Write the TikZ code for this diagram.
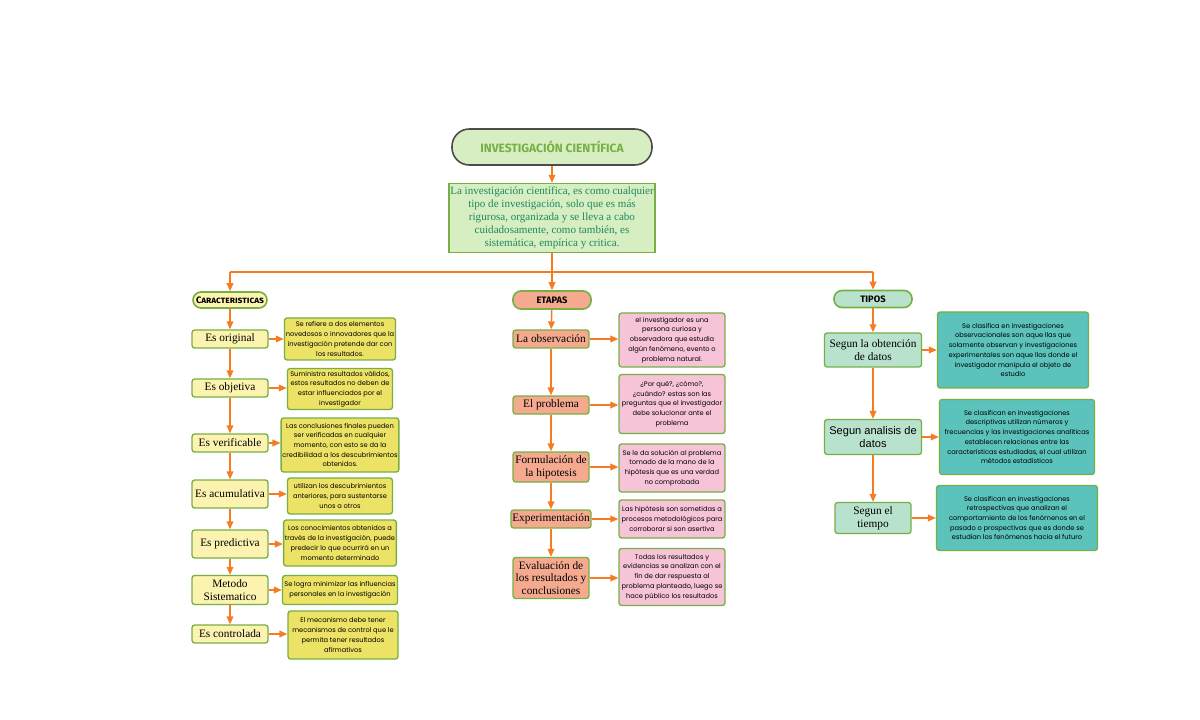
\documentclass[tikz,border=0pt]{standalone}
\usepackage{fontspec}
\setmainfont{Liberation Serif}
\newfontfamily\hand{Poppins}
\newfontfamily\hsans{Liberation Sans}
\newfontfamily\fira{Fira Sans}
\usetikzlibrary{arrows.meta}
\definecolor{org}{HTML}{F57C22}
\definecolor{grn}{HTML}{76B043}
\definecolor{ylw}{HTML}{ECE265}
\definecolor{lylw}{HTML}{FDF3B0}
\definecolor{salm}{HTML}{F5AA90}
\definecolor{pink}{HTML}{F6C3D8}
\definecolor{mint}{HTML}{B9E2CE}
\definecolor{teal}{HTML}{5BC2BC}
\definecolor{lgrn}{HTML}{D7EDC2}
\definecolor{dtxt}{HTML}{1E8A5E}
\begin{document}
\begin{tikzpicture}[x=0.75pt,y=-0.75pt,
 ar/.style={draw=org,line width=1.1pt,-{Triangle[length=6pt,width=5pt]}},
 cat/.style={draw=grn,line width=1pt,rounded corners=2pt,align=center,font=\fontsize{8.5}{9.5}\selectfont,inner sep=1pt},
 desc/.style={draw=grn,line width=1pt,rounded corners=2pt,align=center,font=\hand\fontsize{5}{7.3}\selectfont,inner sep=1pt},
 head/.style={draw=grn,line width=1.2pt,rounded corners=6pt,font=\fira\bfseries\fontsize{7}{8}\selectfont,inner sep=0pt}]
\useasboundingbox (0,0) rectangle (1200,720);
\fill[white] (0,0) rectangle (1200,720);
% title
\node[draw=black!70,line width=1.2pt,fill=lgrn,rounded corners=13pt,minimum width=200*0.75pt,minimum height=36*0.75pt,font=\fira\bfseries\fontsize{9}{10}\selectfont,text=grn] (t) at (552,147) {INVESTIGACIÓN CIENTÍFICA};
\node[draw=grn,line width=1pt,fill=lgrn,minimum width=206*0.75pt,minimum height=69*0.75pt,align=center,text=dtxt,font=\fontsize{8.3}{9.7}\selectfont,inner sep=1pt] (d) at (552,218) {La investigación científica, es como cualquier\\tipo de investigación, solo que es más\\rigurosa, organizada y se lleva a cabo\\cuidadosamente, como también, es\\sistemática, empírica y critica.};
\draw[ar] (t) -- (d);
\coordinate (hl) at (230,272); \coordinate (hr) at (873,272); \coordinate (hm) at (552,272);
% heads
\node[head,fill=lylw,minimum width=74*0.75pt,minimum height=16*0.75pt,font=\fira\bfseries\scshape\fontsize{7}{8}\selectfont] (c0) at (230,300) {Caracteristicas};
\node[head,fill=salm,minimum width=78*0.75pt,minimum height=18*0.75pt] (e0) at (552,300) {ETAPAS};
\node[head,fill=mint,minimum width=78*0.75pt,minimum height=17*0.75pt] (p0) at (873,299) {TIPOS};
\draw[draw=org,line width=1.1pt] (d) -- (hm) (hl) -- (hr);
\draw[ar] (hl) -- (c0); \draw[ar] (hm) -- (e0); \draw[ar] (hr) -- (p0);
% left column
\foreach \n/\y/\h/\t in {1/339/18/Es original,2/388/18/Es objetiva,3/443/18/Es verificable,4/494/28/Es acumulativa,5/544/28/Es predictiva,6/590/29/{Metodo\\Sistematico},7/634/18/Es controlada}
 \node[cat,fill=lylw,minimum width=76*0.75pt,minimum height=\h*0.75pt] (c\n) at (230,\y) {\t};
\foreach \a/\b in {0/1,1/2,2/3,3/4,4/5,5/6,6/7} \draw[ar] (c\a) -- (c\b);
\node[desc,fill=ylw,minimum width=105*0.75pt,minimum height=42*0.75pt] (cd1) at (340,339) {Se refiere a dos elementos\\novedosos o innovadores que la\\investigación pretende dar con\\los resultados.};
\node[desc,fill=ylw,minimum width=105*0.75pt,minimum height=41*0.75pt] (cd2) at (340,389) {Suministra resultados válidos,\\estos resultados no deben de\\estar influenciados por el\\investigador};
\node[desc,fill=ylw,minimum width=105*0.75pt,minimum height=54*0.75pt] (cd3) at (340,445) {Las conclusiones finales pueden\\ser verificadas en cualquier\\momento, con esto se da la\\credibilidad a los descubrimientos\\obtenidos.};
\node[desc,fill=ylw,minimum width=105*0.75pt,minimum height=36*0.75pt] (cd4) at (340,496) {utilizan los descubrimientos\\anteriores, para sustentarse\\unos a otros};
\node[desc,fill=ylw,minimum width=105*0.75pt,minimum height=46*0.75pt] (cd5) at (340,543) {Los conocimientos obtenidos a\\través de la investigación, puede\\predecir lo que ocurrirá en un\\momento determinado};
\node[desc,fill=ylw,minimum width=115*0.75pt,minimum height=29*0.75pt] (cd6) at (340,590) {Se logra minimizar las influencias\\personales en la investigación};
\node[desc,fill=ylw,minimum width=110*0.75pt,minimum height=48*0.75pt] (cd7) at (343,635) {El mecanismo debe tener\\mecanismos de control que le\\permita tener resultados\\afirmativos};
\foreach \i in {1,...,7} \draw[ar] (c\i.east) -- (c\i.east -| cd\i.west);
% middle column
\foreach \n/\y/\h/\t in {1/339/18/La observación,2/405/18/El problema,3/467/30/{Formulación de\\la hipotesis},4/519/18/Experimentación,5/578/41/{Evaluación de\\los resultados y\\conclusiones}}
 \node[cat,fill=salm,minimum width=76*0.75pt,minimum height=\h*0.75pt] (e\n) at (551,\y) {\t};
\foreach \a/\b in {0/1,1/2,2/3,3/4,4/5} \draw[ar] (e\a) -- (e\b);
\node[desc,fill=pink,minimum width=106*0.75pt,minimum height=54*0.75pt] (ed1) at (672,340) {el investigador es una\\persona curiosa y\\observadora que estudia\\algún fenómeno, evento o\\problema natural.};
\node[desc,fill=pink,minimum width=106*0.75pt,minimum height=59*0.75pt] (ed2) at (672,404) {¿Por qué?, ¿cómo?,\\¿cuándo? estas son las\\preguntas que el investigador\\debe solucionar ante el\\problema};
\node[desc,fill=pink,minimum width=106*0.75pt,minimum height=48*0.75pt] (ed3) at (672,468) {Se le da solución al problema\\tomado de la mano de la\\hipótesis que es una verdad\\no comprobada};
\node[desc,fill=pink,minimum width=106*0.75pt,minimum height=38*0.75pt] (ed4) at (672,519) {Las hipótesis son sometidas a\\procesos metodológicos para\\corroborar si son asertiva};
\node[desc,fill=pink,minimum width=106*0.75pt,minimum height=57*0.75pt] (ed5) at (672,577) {Todas los resultados y\\evidencias se analizan con el\\fin de dar respuesta al\\problema planteado, luego se\\hace público los resultados};
\foreach \i in {1,...,5} \draw[ar] (e\i.east) -- (e\i.east -| ed\i.west);
% right column
\node[cat,fill=mint,minimum width=97*0.75pt,minimum height=34*0.75pt] (p1) at (873,350) {Segun la obtención\\de datos};
\node[cat,fill=mint,minimum width=97*0.75pt,minimum height=35*0.75pt,font=\hsans\fontsize{8.3}{10}\selectfont] (p2) at (873,437) {Segun analisis de\\datos};
\node[cat,fill=mint,minimum width=76*0.75pt,minimum height=31*0.75pt] (p3) at (873,518) {Segun el\\tiempo};
\foreach \a/\b in {0/1,1/2,2/3} \draw[ar] (p\a) -- (p\b);
\node[desc,fill=teal,minimum width=151*0.75pt,minimum height=76*0.75pt] (pd1) at (1013,350) {Se clasifica en investigaciones\\observacionales son aque llas que\\solamente observan y investigaciones\\experimentales son aque llas donde el\\investigador manipula el objeto de\\estudio};
\node[desc,fill=teal,minimum width=155*0.75pt,minimum height=75*0.75pt] (pd2) at (1017,437) {Se clasifican en investigaciones\\descriptivas utilizan números y\\frecuencias y las investigaciones analíticas\\establecen relaciones entre las\\características estudiadas, el cual utilizan\\métodos estadísticos};
\node[desc,fill=teal,minimum width=161*0.75pt,minimum height=65*0.75pt] (pd3) at (1017,518) {Se clasifican en investigaciones\\retrospectivas que analizan el\\comportamiento de los fenómenos en el\\pasado o prospectivas que es donde se\\estudian los fenómenos hacia el futuro};
\foreach \i in {1,...,3} \draw[ar] (p\i.east) -- (p\i.east -| pd\i.west);
\end{tikzpicture}
\end{document}
